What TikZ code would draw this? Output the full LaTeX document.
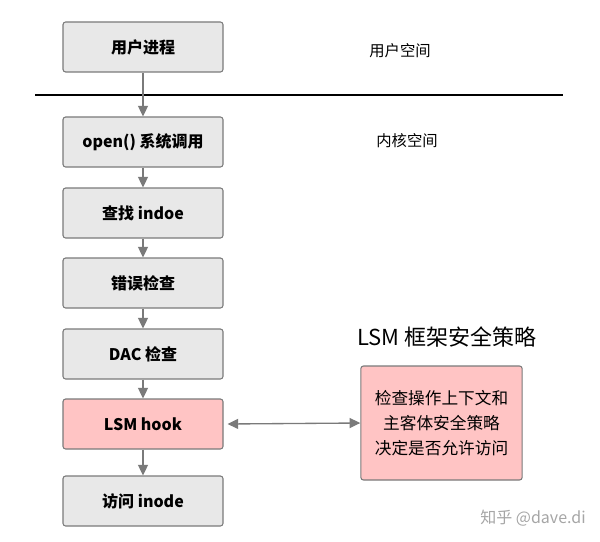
\documentclass[tikz,border=0pt]{standalone}
\usepackage{fontspec}
\setmainfont{Noto Sans CJK SC}
\usetikzlibrary{arrows.meta}
\definecolor{boxg}{HTML}{E8E8E8}
\definecolor{boxp}{HTML}{FFC4C4}
\definecolor{edg}{HTML}{7A7A7A}
\begin{document}
\begin{tikzpicture}[x=0.75pt,y=-0.75pt,
  box/.style={draw=edg,fill=boxg,rounded corners=2pt,line width=0.8pt,minimum width=120pt,minimum height=37.5pt,font=\fontsize{12}{14}\selectfont\bfseries,inner sep=0pt},
  pbox/.style={box,fill=boxp},
  tip/.style={Triangle[length=8pt,width=7.5pt]},
  arr/.style={draw=edg,line width=1pt,-{Triangle[length=8pt,width=7.5pt]}}]
\useasboundingbox (0,0) rectangle (600,542);
\fill[white] (0,0) rectangle (600,542);
\node[box] (a) at (143,47) {用户进程};
\node[box] (b) at (143,142) {open() 系统调用};
\node[box] (c) at (143,213) {查找 indoe};
\node[box] (d) at (143,283) {错误检查};
\node[box] (e) at (143,354) {DAC 检查};
\node[pbox] (f) at (143,424) {LSM hook};
\node[box] (g) at (143,501) {访问 inode};
\coordinate (l1) at (35,95); \coordinate (l2) at (563,95);
\draw[line width=1pt] (l1) -- (l2);
\node (us) at (400,51) {\fontsize{11.5}{13}\selectfont 用户空间};
\node (ks) at (407,141) {\fontsize{11.5}{13}\selectfont 内核空间};
\node (t) at (447,337) {\fontsize{16.5}{19}\selectfont LSM 框架安全策略};
\node[pbox,minimum width=121pt,minimum height=85.5pt,font=\fontsize{12.5}{19}\selectfont,align=center] (r) at (441.5,423) {检查操作上下文和\\主客体安全策略\\决定是否允许访问};
\draw[arr] (a) -- (b);
\draw[arr] (b) -- (c);
\draw[arr] (c) -- (d);
\draw[arr] (d) -- (e);
\draw[arr] (e) -- (f);
\draw[arr] (f) -- (g);
\draw[arr,{Triangle[length=8pt,width=7.5pt]}-{Triangle[length=8pt,width=7.5pt]}] (f.east) ++(4,0) coordinate (fe) (fe) -- (r.west);
\node[text=gray!70] (w) at (533,518) {\fontsize{12}{14}\selectfont 知乎 @dave.di};
\end{tikzpicture}
\end{document}
